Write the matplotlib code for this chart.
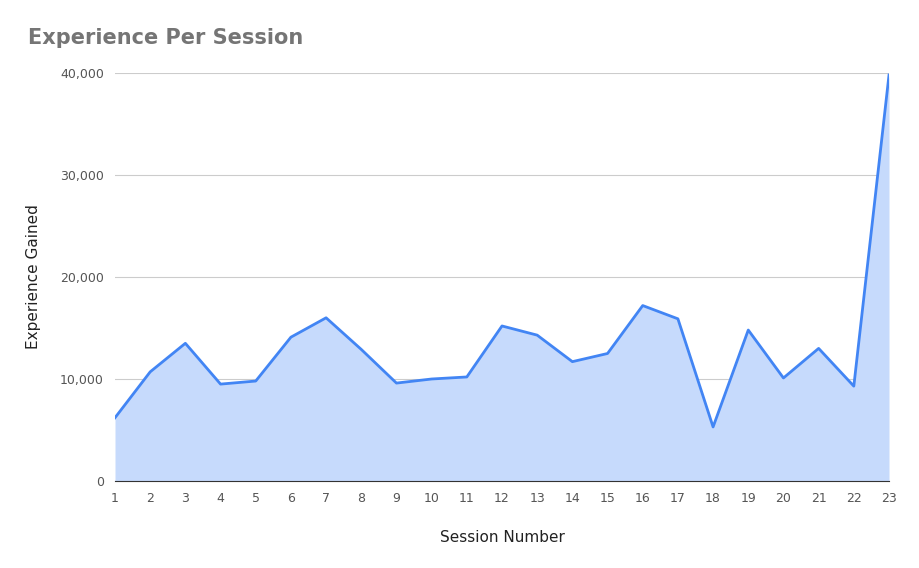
import matplotlib
matplotlib.use("Agg")
import matplotlib.pyplot as plt
from matplotlib.ticker import FuncFormatter

sessions = list(range(1, 24))
experience = [6200, 10700, 13500, 9500, 9800, 14100, 16000, 12900, 9600, 10000, 10200,
              15200, 14300, 11700, 12500, 17200, 15900, 5300, 14800, 10100, 13000, 9300, 39800]

fig = plt.figure(figsize=(9.19, 5.68), dpi=100)
ax = fig.add_axes([115/919, 87/568, 774/919, 408/568])
ax.fill_between(sessions, experience, 0, color="#c6dafc", lw=0)
ax.plot(sessions, experience, color="#4285f4", lw=2)
ax.set_xlim(1, 23)
ax.set_ylim(0, 40000)
ax.set_xticks(sessions)
ax.set_yticks([0, 10000, 20000, 30000, 40000])
ax.yaxis.set_major_formatter(FuncFormatter(lambda v, p: f"{int(v):,}"))
ax.grid(axis="y", color="#cccccc", lw=0.8)
ax.set_axisbelow(True)
for s in ["top", "right", "left"]:
    ax.spines[s].set_visible(False)
ax.spines["bottom"].set_color("#333333")
ax.tick_params(length=0, labelsize=9, colors="#555555", pad=8)
ax.set_xlabel("Session Number", fontsize=11, color="#222222", labelpad=18)
ax.set_ylabel("Experience Gained", fontsize=11, color="#222222", labelpad=14)
fig.text(28/919, 1 - 38/568, "Experience Per Session", fontsize=15, fontweight="bold",
         color="#757575", va="center", ha="left")
fig.savefig("out.png", dpi=100)
